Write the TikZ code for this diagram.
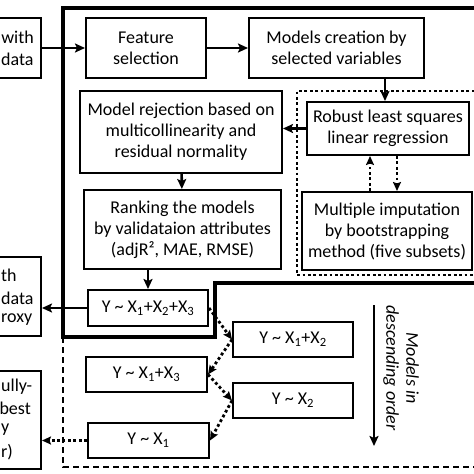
\documentclass[tikz,border=0pt]{standalone}
\usepackage{fontspec}
\setmainfont{Carlito}
\usetikzlibrary{arrows.meta}
\begin{document}
\begin{tikzpicture}[x=1pt,y=-1pt,
  box/.style={draw,line width=2pt,inner sep=0pt,align=center,font=\fontsize{18}{21}\selectfont},
  txt/.style={inner sep=0pt,font=\fontsize{18}{21}\selectfont},
  arr/.style={line width=2.6pt,-{Stealth[length=10pt,width=9pt,inset=2pt]}},
  dotarr/.style={line width=2.8pt,dash pattern=on 2.8pt off 2.6pt,-{Stealth[length=9pt,width=8pt,inset=1.5pt]}},
  dotline/.style={line width=2.8pt,dash pattern=on 2.8pt off 2.6pt},
  dashline/.style={line width=2pt,dash pattern=on 6pt off 4pt},
  thickline/.style={line width=3.4pt}]
\useasboundingbox (0,0) rectangle (474,474);
\clip (0,0) rectangle (474,474);
\fill[white] (0,0) rectangle (474,474);

% frames
\draw[thickline] (480,8) -- (63,8) -- (63,337) -- (215,337) -- (215,283) -- (480,283);
\draw[dotline] (480,91) -- (297,91) -- (297,275) -- (480,275);
\draw[dashline] (63,337) -- (63,467) -- (480,467);

% left partial boxes
\node[box,minimum width=46pt,minimum height=60pt] (l1) at (18,48) {};
\node[txt,anchor=east] (l1a) at (34,37) {with};
\node[txt,anchor=west] (l1b) at (1,59) {data};
\node[box,minimum width=46pt,minimum height=79pt] (l2) at (18,296.5) {};
\node[txt,anchor=west] (l2a) at (1,275) {th};
\node[txt,anchor=west] (l2b) at (1,298) {data};
\node[txt,anchor=west] (l2c) at (1,320) {roxy};
\node[box,minimum width=46pt,minimum height=98pt] (l3) at (18,420) {};
\node[txt,anchor=west] (l3a) at (1,387) {ully-};
\node[txt,anchor=east] (l3b) at (31,408) {best};
\node[txt,anchor=west] (l3c) at (1,430) {y};
\node[txt,anchor=west] (l3d) at (1,452) {r)};

% main boxes
\node[box,minimum width=120pt,minimum height=60pt] (fs) at (146,48) {Feature\\selection};
\node[box,minimum width=175pt,minimum height=60pt] (mc) at (336.5,48) {Models creation by\\selected variables};
\node[box,minimum width=162pt,minimum height=53pt] (rb) at (388,128.5) {Robust least squares\\linear regression};
\node[box,minimum width=202pt,minimum height=82pt] (mr) at (181,132) {Model rejection based on\\multicollinearity and\\residual normality};
\node[box,minimum width=197pt,minimum height=79pt] (rk) at (182.5,229.5) {Ranking the models\\by validataion attributes\\(adjR²,~MAE, RMSE)};
\node[box,minimum width=170pt,minimum height=78pt] (mi) at (387,231) {Multiple imputation\\by bootstrapping\\method (five subsets)};

\node[box,minimum width=120pt,minimum height=36pt] (y123) at (148,308) {Y \textasciitilde{} X\textsubscript{1}+X\textsubscript{2}+X\textsubscript{3}};
\node[box,minimum width=120pt,minimum height=35pt] (y12) at (293,339.5) {Y \textasciitilde{} X\textsubscript{1}+X\textsubscript{2}};
\node[box,minimum width=121pt,minimum height=35pt] (y13) at (146.5,374.5) {Y \textasciitilde{} X\textsubscript{1}+X\textsubscript{3}};
\node[box,minimum width=120pt,minimum height=35pt] (y2) at (293,400.5) {Y \textasciitilde{} X\textsubscript{2}};
\node[box,minimum width=121pt,minimum height=35pt] (y1) at (148.5,440.5) {Y \textasciitilde{} X\textsubscript{1}};

% connectors
\coordinate (c1) at (385,0);
\coordinate (c2) at (370,0);
\coordinate (c3) at (397,0);
\draw[arr] (l1) -- (fs);
\draw[arr] (fs) -- (mc);
\draw[arr] (mc.south -| c1) -- (rb.north -| c1);
\draw[arr] (rb.west) -- (rb.west -| mr.east);
\draw[arr] (mr) -- (rk);
\draw[arr] (rk.south -| y123.north) -- (y123.north);
\draw[arr] (y123.west) -- (y123.west -| l2.east);
\draw[dotarr] (mi.north -| c2) -- (rb.south -| c2);
\draw[dotarr] (rb.south -| c3) -- (mi.north -| c3);
\draw[dotarr] (y123.east) -- (y12.west);
\draw[dotarr] (y12.west) -- (y13.east);
\draw[dotarr] (y13.east) -- (y2.west);
\draw[dotarr] (y2.west) -- (y1.east);
\draw[dotarr] (y1.west) -- (y1.west -| l3.east);

% descending order arrow
\coordinate (d1) at (374,305);
\coordinate (d2) at (374,446);
\draw[arr] (d1) -- (d2);
\node[txt,rotate=-90,align=center,font=\fontsize{18}{20}\selectfont\itshape] (mo) at (401,368) {Models in\\descending order};
\end{tikzpicture}
\end{document}
